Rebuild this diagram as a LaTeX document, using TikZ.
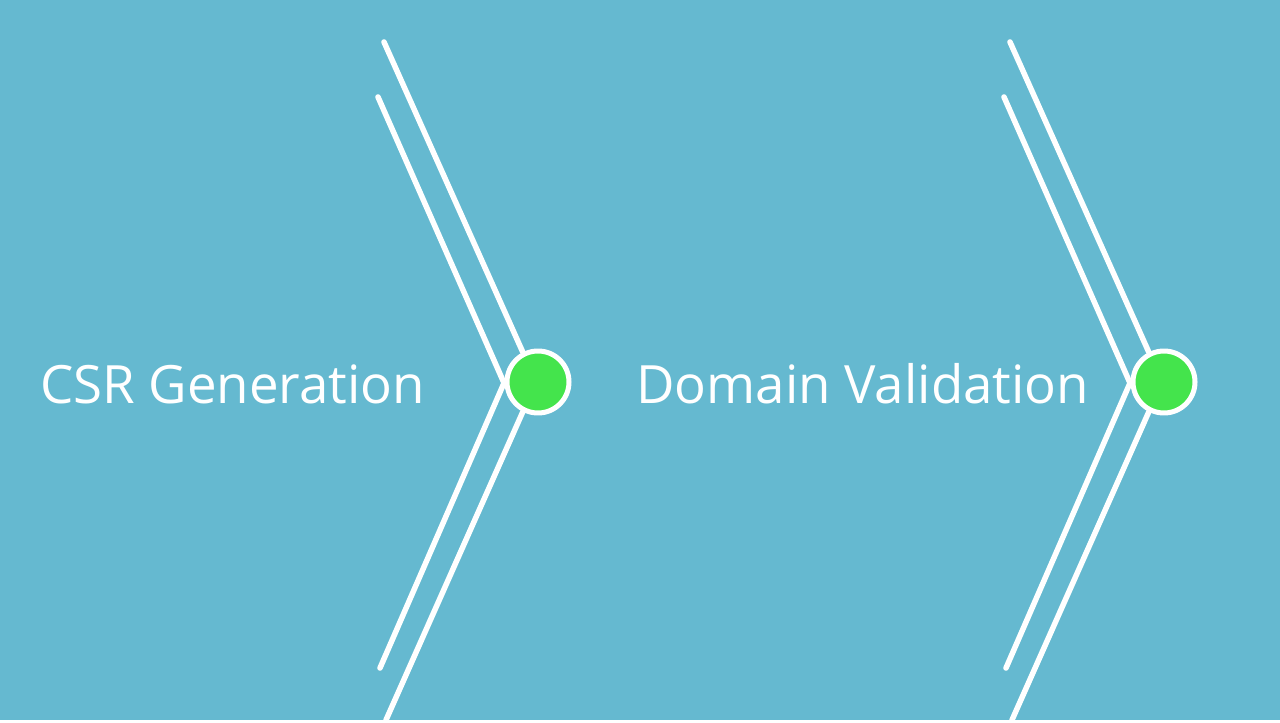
\documentclass[tikz,border=0pt]{standalone}
\usepackage{fontspec}
\setmainfont{Open Sans}
\usetikzlibrary{arrows}

\definecolor{bgcol}{RGB}{101,185,208}
\definecolor{dotcol}{RGB}{68,228,76}

\tikzset{
  rail/.style={draw=white,line width=5.5bp,line cap=round,line join=miter},
  stepdot/.style={circle,draw=white,line width=5bp,fill=dotcol,minimum size=62bp,inner sep=0pt},
  steplabel/.style={text=white,font=\fontsize{53}{63}\selectfont,anchor=base west,inner sep=0pt}
}

\begin{document}
\begin{tikzpicture}[>=latex',line join=bevel,x=1bp,y=-1bp]
\fill[bgcol] (0,0) rectangle (1280,720);

% Node: CSR
\node[steplabel] (csr) at (40,403) {CSR Generation};

% Node: Domain
\node[steplabel] (dom) at (636,403) {Domain Validation};

% Node: dot1
\node[stepdot] (dot1) at (538,382) {};
% Node: dot2
\node[stepdot] (dot2) at (1164,382) {};

% Edge: chevron 1
\coordinate (o1a) at (384,42);
\coordinate (o1b) at (386,720);
\coordinate (i1a) at (378,97);
\coordinate (i1t) at (504,383);
\coordinate (i1b) at (380,668);
\draw [rail] (o1a) -- (dot1.117);
\draw [rail] (dot1.243) -- (o1b);
\draw [rail] (i1a) -- (i1t) -- (i1b);

% Edge: chevron 2
\coordinate (o2a) at (1010,42);
\coordinate (o2b) at (1012,720);
\coordinate (i2a) at (1004,97);
\coordinate (i2t) at (1130,383);
\coordinate (i2b) at (1006,668);
\draw [rail] (o2a) -- (dot2.117);
\draw [rail] (dot2.243) -- (o2b);
\draw [rail] (i2a) -- (i2t) -- (i2b);

\end{tikzpicture}
\end{document}
